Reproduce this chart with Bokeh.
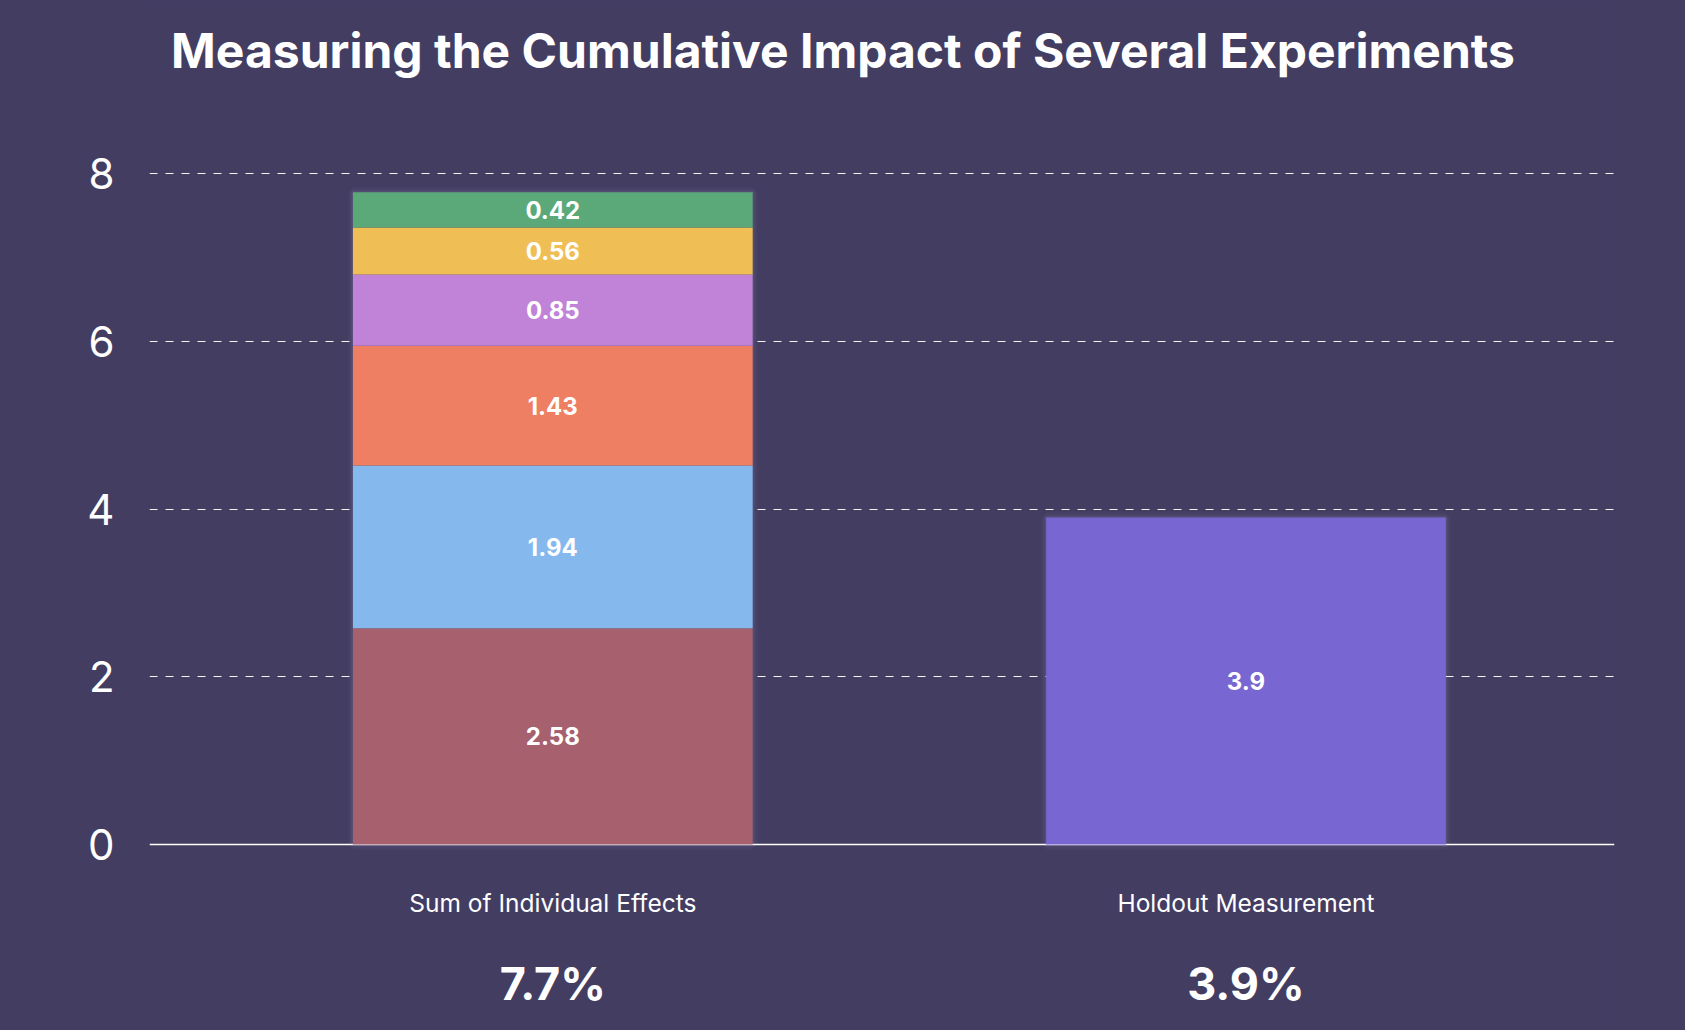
import numpy as np
from bokeh.plotting import figure
from bokeh.models import FixedTicker, Span, ColumnDataSource
from bokeh.core.properties import value
from bokeh.embed import file_html
from bokeh.resources import INLINE

# ---- data ----
categories = ["Sum of Individual Effects", "Holdout Measurement"]
totals_text = ["7.7%", "3.9%"]
effect_names = ["e1", "e2", "e3", "e4", "e5", "e6"]
effect_values = [2.58, 1.94, 1.43, 0.85, 0.56, 0.42]
effect_colors = ["#a6606e", "#85b9ee", "#ef7f63", "#c083d7", "#efbe55", "#5ba878"]
holdout_value = [3.9]
holdout_color = "#7866d3"
y_ticks = [0, 2, 4, 6, 8]
title_text = "Measuring the Cumulative Impact of Several Experiments"

BG = "#433d62"
FONT = "Inter"

# ---- layout constants (pixels, figure at page origin) ----
W, H = 1685, 1030
LEFT = 149
FRAME_RIGHT_PX = 1614
RIGHT = W - FRAME_RIGHT_PX
FRAME_W = FRAME_RIGHT_PX - LEFT
PPU_Y = 83.85         # pixels per y unit
Y0_PX = 844.1         # pixel row of y=0 from figure top
PPU_X = 693.2
XC0_PX = 552.3        # pixel column of first category center

y_top = Y0_PX / PPU_Y
y_bot = -(H - Y0_PX) / PPU_Y
x_start = -(XC0_PX - LEFT) / PPU_X
x_end = x_start + FRAME_W / PPU_X
BAR_W = 0.5767


def py(px):
    return y_top - px / PPU_Y


def px_x(px):
    return x_start + (px - LEFT) / PPU_X


p = figure(width=W, height=H, output_backend="svg", toolbar_location=None,
           x_range=(x_start, x_end), y_range=(y_bot, y_top),
           min_border_left=LEFT, min_border_right=RIGHT,
           min_border_top=0, min_border_bottom=0)
p.background_fill_color = BG
p.border_fill_color = BG
p.outline_line_color = None
p.outline_line_alpha = 0
p.xaxis.visible = False
p.xgrid.visible = False

yaxis = p.yaxis[0]
yaxis.ticker = FixedTicker(ticks=y_ticks)
yaxis.axis_line_color = None
yaxis.major_tick_line_color = None
yaxis.minor_tick_line_color = None
yaxis.major_tick_in = 0
yaxis.major_tick_out = 0
yaxis.minor_tick_in = 0
yaxis.minor_tick_out = 0
yaxis.major_label_text_color = "white"
yaxis.major_label_text_font = FONT
yaxis.major_label_text_font_size = "42px"
yaxis.major_label_standoff = 35

p.ygrid.ticker = FixedTicker(ticks=[t for t in y_ticks if t > 0])
p.ygrid.grid_line_color = "white"
p.ygrid.grid_line_alpha = 0.95
p.ygrid.grid_line_width = 1
p.ygrid.grid_line_dash = "8 8"

base = Span(location=0, dimension="width", line_color="white", line_width=1.5,
            level="underlay")
p.add_layout(base)

xs = [0, 1]
stack_total = float(np.sum(effect_values))
tops = [stack_total, holdout_value[0]]

# soft glow behind bars
for lw, la in [(10, 0.03), (6, 0.05), (3, 0.07)]:
    p.vbar(x=xs, bottom=0, top=tops, width=BAR_W,
           fill_color=None, line_color="#b8b0e8", line_alpha=la, line_width=lw)

src = ColumnDataSource({"x": [0], **{n: [v] for n, v in zip(effect_names, effect_values)}})
p.vbar_stack(effect_names, x="x", width=BAR_W, color=effect_colors, source=src,
             line_width=0)
p.vbar(x=[1], bottom=0, top=holdout_value, width=BAR_W, fill_color=holdout_color,
       line_width=0)

# segment labels
cum = np.cumsum(effect_values)
mids = list(cum - np.array(effect_values) / 2.0)
p.text(x=[0] * len(effect_values) + [1], y=mids + [holdout_value[0] / 2.0],
       text=[f"{v:g}" for v in effect_values] + [f"{holdout_value[0]:g}"],
       text_color="white", text_font=value(FONT), text_font_style="bold",
       text_font_size="24px", text_align="center", text_baseline="middle")

# category labels
p.text(x=xs, y=[py(902.7)] * 2, text=categories, text_color="white",
       text_font=value(FONT), text_font_size="24.5px", text_align="center",
       text_baseline="middle")

# totals
p.text(x=xs, y=[py(982.8)] * 2, text=totals_text, text_color="white",
       text_font=value(FONT), text_font_style="bold", text_font_size="45px",
       text_align="center", text_baseline="middle")

# title
p.text(x=[px_x(W / 2)], y=[py(50.3)], text=[title_text], text_color="white",
       text_font=value(FONT), text_font_style="bold", text_font_size="48px",
       text_align="center", text_baseline="middle")

html = file_html(p, INLINE)
css = "<style>html,body{background:%s !important;overflow:hidden !important;}</style>" % BG
html = html.replace("</head>", css + "</head>", 1)
open("out.html", "w").write(html)
